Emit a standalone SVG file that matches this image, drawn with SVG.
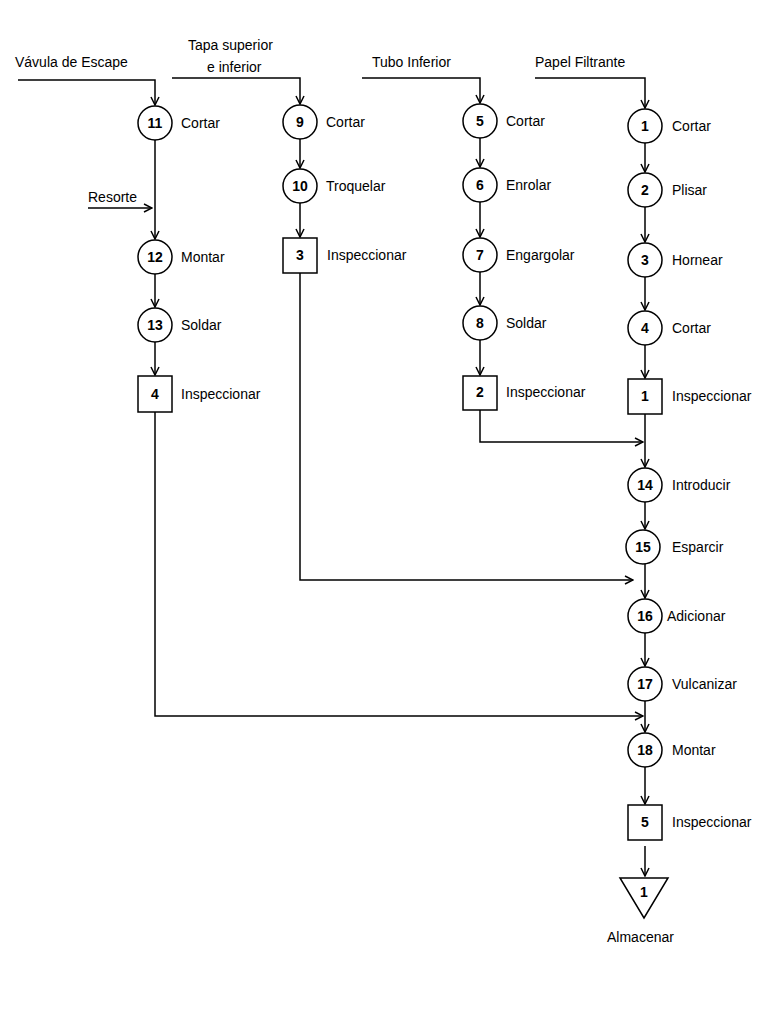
<svg xmlns="http://www.w3.org/2000/svg" width="768" height="1024" viewBox="0 0 768 1024">
<style>
text{font-family:"Liberation Sans",Arial,sans-serif;font-size:14px;fill:#000}
.n{font-weight:bold;text-anchor:middle}
.s{fill:#fff;stroke:#000;stroke-width:1.5}
.l{fill:none;stroke:#000;stroke-width:1.5;marker-end:url(#a)}
.p{fill:none;stroke:#000;stroke-width:1.5}
</style>
<defs><marker id="a" markerWidth="10" markerHeight="10" refX="9" refY="5" orient="auto" markerUnits="userSpaceOnUse"><path d="M1,1 L9,5 L1,9" fill="none" stroke="#000" stroke-width="1.5"/></marker></defs>
<rect width="768" height="1024" fill="#fff"/>
<g id="connectors">
<path class="l" d="M18,80 H155 V105"/>
<path class="l" d="M155,140 V239"/>
<path class="l" d="M88,208 H152"/>
<path class="l" d="M155,274 V307"/>
<path class="l" d="M155,342 V375"/>
<path class="l" d="M155,412 V716 H643"/>
<path class="l" d="M172,78 H300 V104"/>
<path class="l" d="M300,139 V168"/>
<path class="l" d="M300,203 V237"/>
<path class="l" d="M300,273 V580 H633"/>
<path class="l" d="M362,78 H480 V103"/>
<path class="l" d="M480,138 V167"/>
<path class="l" d="M480,202 V237"/>
<path class="l" d="M480,272 V305"/>
<path class="l" d="M480,340 V375"/>
<path class="l" d="M480,410 V442 H643"/>
<path class="l" d="M535,78 H645 V108"/>
<path class="l" d="M645,143 V172"/>
<path class="l" d="M645,207 V242"/>
<path class="l" d="M645,277 V310"/>
<path class="l" d="M645,345 V378"/>
<path class="l" d="M645,414 V467"/>
<path class="l" d="M645,502 V529"/>
<path class="l" d="M645,564 V598"/>
<path class="l" d="M645,633 V666"/>
<path class="l" d="M645,701 V732"/>
<path class="l" d="M645,767 V804"/>
<path class="l" d="M645,846 V876"/>
</g>
<text x="15" y="67">Vávula de Escape</text>
<text x="188" y="50">Tapa superior</text>
<text x="207" y="72">e inferior</text>
<text x="372" y="67">Tubo Inferior</text>
<text x="535" y="67">Papel Filtrante</text>
<text x="88" y="202">Resorte</text>
<g id="c11"><circle class="s" cx="155" cy="123" r="17"/><text class="n" x="155" y="128">11</text><text x="181" y="128">Cortar</text></g>
<g id="c12"><circle class="s" cx="155" cy="257" r="17"/><text class="n" x="155" y="262">12</text><text x="181" y="262">Montar</text></g>
<g id="c13"><circle class="s" cx="155" cy="325" r="17"/><text class="n" x="155" y="330">13</text><text x="181" y="330">Soldar</text></g>
<g id="i4"><rect class="s" x="138" y="376" width="34" height="36"/><text class="n" x="155" y="399">4</text><text x="181" y="399">Inspeccionar</text></g>
<g id="c9"><circle class="s" cx="300" cy="122" r="17"/><text class="n" x="300" y="127">9</text><text x="326" y="127">Cortar</text></g>
<g id="c10"><circle class="s" cx="300" cy="186" r="17"/><text class="n" x="300" y="191">10</text><text x="326" y="191">Troquelar</text></g>
<g id="i3"><rect class="s" x="283" y="238" width="34" height="35"/><text class="n" x="300" y="260">3</text><text x="327" y="260">Inspeccionar</text></g>
<g id="c5"><circle class="s" cx="480" cy="121" r="17"/><text class="n" x="480" y="126">5</text><text x="506" y="126">Cortar</text></g>
<g id="c6"><circle class="s" cx="480" cy="185" r="17"/><text class="n" x="480" y="190">6</text><text x="506" y="190">Enrolar</text></g>
<g id="c7"><circle class="s" cx="480" cy="255" r="17"/><text class="n" x="480" y="260">7</text><text x="506" y="260">Engargolar</text></g>
<g id="c8"><circle class="s" cx="480" cy="323" r="17"/><text class="n" x="480" y="328">8</text><text x="506" y="328">Soldar</text></g>
<g id="i2"><rect class="s" x="463" y="376" width="34" height="34"/><text class="n" x="480" y="397">2</text><text x="506" y="397">Inspeccionar</text></g>
<g id="c1"><circle class="s" cx="645" cy="126" r="17"/><text class="n" x="645" y="131">1</text><text x="672" y="131">Cortar</text></g>
<g id="c2"><circle class="s" cx="645" cy="190" r="17"/><text class="n" x="645" y="195">2</text><text x="672" y="195">Plisar</text></g>
<g id="c3"><circle class="s" cx="645" cy="260" r="17"/><text class="n" x="645" y="265">3</text><text x="672" y="265">Hornear</text></g>
<g id="c4"><circle class="s" cx="645" cy="328" r="17"/><text class="n" x="645" y="333">4</text><text x="672" y="333">Cortar</text></g>
<g id="i1"><rect class="s" x="628" y="379" width="34" height="35"/><text class="n" x="645" y="401">1</text><text x="672" y="401">Inspeccionar</text></g>
<g id="c14"><circle class="s" cx="645" cy="485" r="17"/><text class="n" x="645" y="490">14</text><text x="672" y="490">Introducir</text></g>
<g id="c15"><circle class="s" cx="643" cy="547" r="17"/><text class="n" x="643" y="552">15</text><text x="672" y="552">Esparcir</text></g>
<g id="c16"><circle class="s" cx="645" cy="616" r="17"/><text class="n" x="645" y="621">16</text><text x="667" y="621">Adicionar</text></g>
<g id="c17"><circle class="s" cx="645" cy="684" r="17"/><text class="n" x="645" y="689">17</text><text x="672" y="689">Vulcanizar</text></g>
<g id="c18"><circle class="s" cx="645" cy="750" r="17"/><text class="n" x="645" y="755">18</text><text x="672" y="755">Montar</text></g>
<g id="i5"><rect class="s" x="628" y="805" width="34" height="35"/><text class="n" x="645" y="827">5</text><text x="672" y="827">Inspeccionar</text></g>
<g id="st1"><path class="s" d="M620,878 H668 L644,918 Z"/><text class="n" x="644" y="897">1</text><text x="607" y="942">Almacenar</text></g>
</svg>
